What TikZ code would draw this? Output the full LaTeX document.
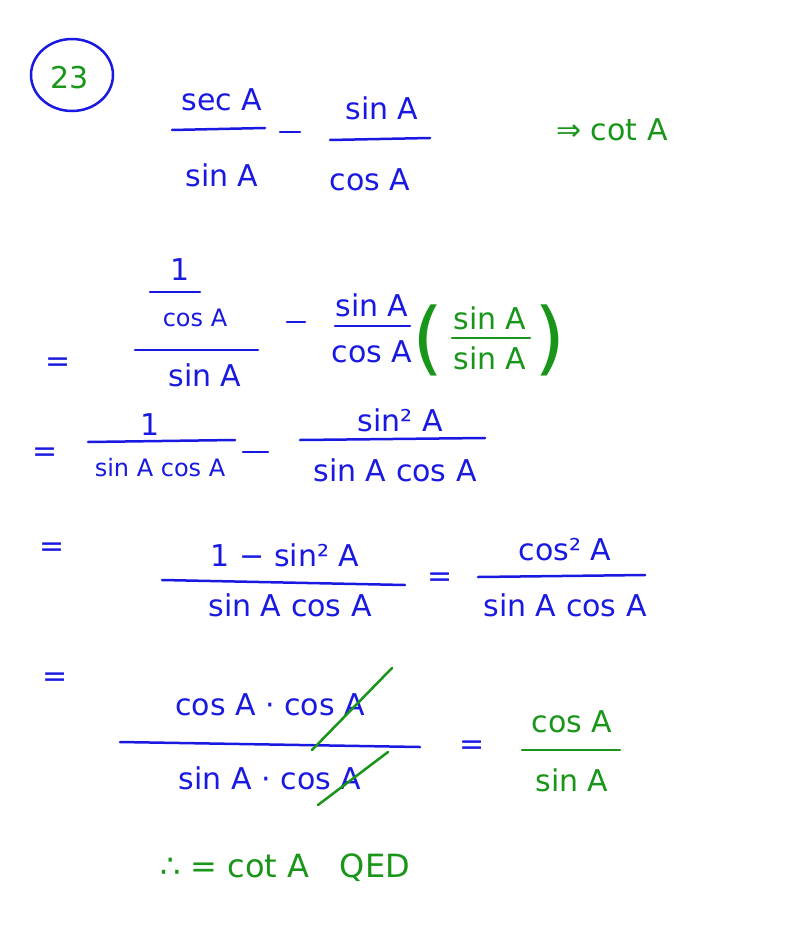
\documentclass[tikz,border=0pt]{standalone}
\usepackage{fontspec}
\setmainfont{DejaVu Sans}
\usetikzlibrary{shapes.geometric}
\begin{document}
\begin{tikzpicture}[x=1pt,y=-1pt,
  bl/.style={text=inkb,font=\fontsize{30}{34}\selectfont,inner sep=0pt},
  gr/.style={text=inkg,font=\fontsize{30}{34}\selectfont,inner sep=0pt},
  sm/.style={font=\fontsize{24}{28}\selectfont},
  barb/.style={draw=inkb,line width=2.5pt,line cap=round},
  barg/.style={draw=inkg,line width=2.5pt,line cap=round}]
\definecolor{inkb}{RGB}{25,25,225}
\definecolor{inkg}{RGB}{25,150,25}
\useasboundingbox[fill=white] (0,0) rectangle (787,928);
% 23
\node[draw=inkb,line width=2.5pt,ellipse,minimum width=82,minimum height=72] (c23) at (72,75) {};
\node[gr] (n23) at (70,78) {23};
% line 1
\node[bl] (a1) at (222,100) {sec A};
\coordinate (b1l) at (172,130); \coordinate (b1r) at (265,128);
\draw[barb] (b1l) -- (b1r);
\node[bl] (a2) at (222,175) {sin A};
\coordinate (m1l) at (280,132); \coordinate (m1r) at (300,132);
\draw[barb] (m1l) -- (m1r);
\node[bl] (a3) at (382,108) {sin A};
\coordinate (b2l) at (330,140); \coordinate (b2r) at (430,138);
\draw[barb] (b2l) -- (b2r);
\node[bl] (a4) at (370,180) {cos A};
\node[gr] (r1) at (612,130) {⇒ cot A};
% line 2
\node[bl] (e2) at (58,365) {=};
\node[bl] (q1) at (180,270) {1};
\coordinate (s1l) at (150,292); \coordinate (s1r) at (200,292);
\draw[barb] (s1l) -- (s1r);
\node[bl,sm] (q2) at (195,318) {cos A};
\coordinate (s2l) at (135,350); \coordinate (s2r) at (258,350);
\draw[barb] (s2l) -- (s2r);
\node[bl] (q3) at (205,375) {sin A};
\coordinate (m2l) at (287,322); \coordinate (m2r) at (305,322);
\draw[barb] (m2l) -- (m2r);
\node[bl] (q4) at (372,305) {sin A};
\coordinate (s3l) at (335,326); \coordinate (s3r) at (410,326);
\draw[barb] (s3l) -- (s3r);
\node[bl] (q5) at (372,352) {cos A};
\node[gr,font=\fontsize{80}{80}\selectfont] (p1) at (428,340) {(};
\node[gr,font=\fontsize{80}{80}\selectfont] (p2) at (550,340) {)};
\node[gr] (g1) at (490,318) {sin A};
\coordinate (g1l) at (452,338); \coordinate (g1r) at (530,338);
\draw[barg] (g1l) -- (g1r);
\node[gr] (g2) at (490,358) {sin A};
% line 3
\node[bl] (e3) at (45,455) {=};
\node[bl] (t1) at (150,425) {1};
\coordinate (t1l) at (88,442); \coordinate (t1r) at (235,440);
\draw[barb] (t1l) -- (t1r);
\node[bl,sm] (t2) at (160,468) {sin A cos A};
\coordinate (m3l) at (243,452); \coordinate (m3r) at (268,452);
\draw[barb] (m3l) -- (m3r);
\node[bl] (t3) at (400,420) {sin² A};
\coordinate (t3l) at (300,440); \coordinate (t3r) at (485,438);
\draw[barb] (t3l) -- (t3r);
\node[bl] (t4) at (395,470) {sin A cos A};
% line 4
\node[bl] (e4) at (52,550) {=};
\node[bl] (u1) at (285,555) {1 − sin² A};
\coordinate (u1l) at (162,580); \coordinate (u1r) at (405,585);
\draw[barb] (u1l) -- (u1r);
\node[bl] (u2) at (290,605) {sin A cos A};
\node[bl] (e5) at (440,580) {=};
\node[bl] (u3) at (565,550) {cos² A};
\coordinate (u3l) at (478,577); \coordinate (u3r) at (645,575);
\draw[barb] (u3l) -- (u3r);
\node[bl] (u4) at (565,605) {sin A cos A};
% line 5
\node[bl] (e6) at (55,680) {=};
\node[bl] (v1) at (270,705) {cos A · cos A};
\coordinate (v1l) at (120,742); \coordinate (v1r) at (420,747);
\draw[barb] (v1l) -- (v1r);
\node[bl] (v2) at (270,778) {sin A · cos A};
\coordinate (x1a) at (312,750); \coordinate (x1b) at (392,668);
\draw[barg] (x1a) -- (x1b);
\coordinate (x2a) at (318,805); \coordinate (x2b) at (388,752);
\draw[barg] (x2a) -- (x2b);
\node[bl] (e7) at (472,748) {=};
\node[gr] (w1) at (572,722) {cos A};
\coordinate (w1l) at (522,750); \coordinate (w1r) at (620,750);
\draw[barg] (w1l) -- (w1r);
\node[gr] (w2) at (572,780) {sin A};
% conclusion
\node[gr,font=\fontsize{32}{36}\selectfont] (fin) at (285,868) {∴ = cot A \ \ QED};
\end{tikzpicture}
\end{document}
